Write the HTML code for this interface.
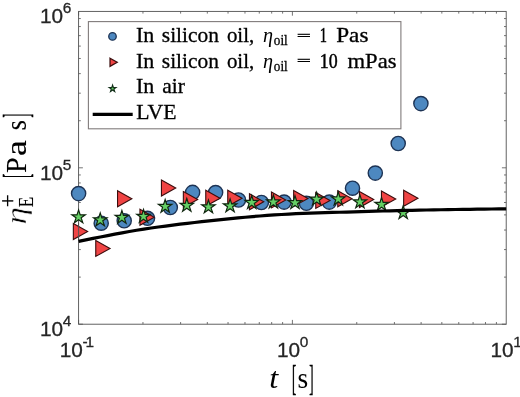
<!DOCTYPE html>
<html><head><meta charset="utf-8"><title>plot</title>
<style>html,body{margin:0;padding:0;background:#fff}svg{display:block}</style></head>
<body>
<svg width="520" height="397" viewBox="0 0 520 397">
<rect width="520" height="397" fill="#fff"/>
<path d="M78.60 324.20v-4.30 M78.60 11.40v4.30 M142.96 324.20v-2.20 M142.96 11.40v2.20 M180.61 324.20v-2.20 M180.61 11.40v2.20 M207.32 324.20v-2.20 M207.32 11.40v2.20 M228.04 324.20v-2.20 M228.04 11.40v2.20 M244.97 324.20v-2.20 M244.97 11.40v2.20 M259.28 324.20v-2.20 M259.28 11.40v2.20 M271.68 324.20v-2.20 M271.68 11.40v2.20 M282.62 324.20v-2.20 M282.62 11.40v2.20 M292.40 324.20v-4.30 M292.40 11.40v4.30 M356.76 324.20v-2.20 M356.76 11.40v2.20 M394.41 324.20v-2.20 M394.41 11.40v2.20 M421.12 324.20v-2.20 M421.12 11.40v2.20 M441.84 324.20v-2.20 M441.84 11.40v2.20 M458.77 324.20v-2.20 M458.77 11.40v2.20 M473.08 324.20v-2.20 M473.08 11.40v2.20 M485.48 324.20v-2.20 M485.48 11.40v2.20 M496.42 324.20v-2.20 M496.42 11.40v2.20 M78.60 324.20h4.30 M506.20 324.20h-4.30 M78.60 277.12h2.20 M506.20 277.12h-2.20 M78.60 249.58h2.20 M506.20 249.58h-2.20 M78.60 230.04h2.20 M506.20 230.04h-2.20 M78.60 214.88h2.20 M506.20 214.88h-2.20 M78.60 202.50h2.20 M506.20 202.50h-2.20 M78.60 192.03h2.20 M506.20 192.03h-2.20 M78.60 182.96h2.20 M506.20 182.96h-2.20 M78.60 174.96h2.20 M506.20 174.96h-2.20 M78.60 167.80h4.30 M506.20 167.80h-4.30 M78.60 120.72h2.20 M506.20 120.72h-2.20 M78.60 93.18h2.20 M506.20 93.18h-2.20 M78.60 73.64h2.20 M506.20 73.64h-2.20 M78.60 58.48h2.20 M506.20 58.48h-2.20 M78.60 46.10h2.20 M506.20 46.10h-2.20 M78.60 35.63h2.20 M506.20 35.63h-2.20 M78.60 26.56h2.20 M506.20 26.56h-2.20 M78.60 18.56h2.20 M506.20 18.56h-2.20" stroke="#505050" stroke-width="0.8" fill="none"/>
<rect x="78.60" y="11.40" width="427.60" height="312.80" fill="none" stroke="#505050" stroke-width="0.9"/>
<g>
<circle cx="78.6" cy="193.6" r="7.1" fill="#4d88c0" stroke="#1d3354" stroke-width="1.4"/>
<circle cx="101.2" cy="223.2" r="7.1" fill="#4d88c0" stroke="#1d3354" stroke-width="1.4"/>
<circle cx="124.2" cy="220.8" r="7.1" fill="#4d88c0" stroke="#1d3354" stroke-width="1.4"/>
<circle cx="147.5" cy="218.3" r="7.1" fill="#4d88c0" stroke="#1d3354" stroke-width="1.4"/>
<circle cx="170.3" cy="207.5" r="7.1" fill="#4d88c0" stroke="#1d3354" stroke-width="1.4"/>
<circle cx="192.6" cy="192.4" r="7.1" fill="#4d88c0" stroke="#1d3354" stroke-width="1.4"/>
<circle cx="215.6" cy="192.6" r="7.1" fill="#4d88c0" stroke="#1d3354" stroke-width="1.4"/>
<circle cx="238.5" cy="200.0" r="7.1" fill="#4d88c0" stroke="#1d3354" stroke-width="1.4"/>
<circle cx="261.4" cy="202.5" r="7.1" fill="#4d88c0" stroke="#1d3354" stroke-width="1.4"/>
<circle cx="284.1" cy="202.1" r="7.1" fill="#4d88c0" stroke="#1d3354" stroke-width="1.4"/>
<circle cx="306.4" cy="203.3" r="7.1" fill="#4d88c0" stroke="#1d3354" stroke-width="1.4"/>
<circle cx="329.3" cy="202.1" r="7.1" fill="#4d88c0" stroke="#1d3354" stroke-width="1.4"/>
<circle cx="352.5" cy="188.2" r="7.1" fill="#4d88c0" stroke="#1d3354" stroke-width="1.4"/>
<circle cx="375.3" cy="173.1" r="7.1" fill="#4d88c0" stroke="#1d3354" stroke-width="1.4"/>
<circle cx="398.2" cy="143.5" r="7.1" fill="#4d88c0" stroke="#1d3354" stroke-width="1.4"/>
<circle cx="420.9" cy="103.6" r="7.1" fill="#4d88c0" stroke="#1d3354" stroke-width="1.4"/>
<polygon points="73.35,223.50 87.65,231.50 73.35,239.50" fill="#f04444" stroke="#3a0d0d" stroke-width="1.1" stroke-linejoin="miter"/>
<polygon points="95.75,240.40 110.05,248.40 95.75,256.40" fill="#f04444" stroke="#3a0d0d" stroke-width="1.1" stroke-linejoin="miter"/>
<polygon points="117.55,190.70 131.85,198.70 117.55,206.70" fill="#f04444" stroke="#3a0d0d" stroke-width="1.1" stroke-linejoin="miter"/>
<polygon points="139.95,209.20 154.25,217.20 139.95,225.20" fill="#f04444" stroke="#3a0d0d" stroke-width="1.1" stroke-linejoin="miter"/>
<polygon points="161.45,180.00 175.75,188.00 161.45,196.00" fill="#f04444" stroke="#3a0d0d" stroke-width="1.1" stroke-linejoin="miter"/>
<polygon points="183.35,191.60 197.65,199.60 183.35,207.60" fill="#f04444" stroke="#3a0d0d" stroke-width="1.1" stroke-linejoin="miter"/>
<polygon points="205.75,190.30 220.05,198.30 205.75,206.30" fill="#f04444" stroke="#3a0d0d" stroke-width="1.1" stroke-linejoin="miter"/>
<polygon points="227.75,190.30 242.05,198.30 227.75,206.30" fill="#f04444" stroke="#3a0d0d" stroke-width="1.1" stroke-linejoin="miter"/>
<polygon points="249.45,193.80 263.75,201.80 249.45,209.80" fill="#f04444" stroke="#3a0d0d" stroke-width="1.1" stroke-linejoin="miter"/>
<polygon points="271.45,191.90 285.75,199.90 271.45,207.90" fill="#f04444" stroke="#3a0d0d" stroke-width="1.1" stroke-linejoin="miter"/>
<polygon points="293.65,190.40 307.95,198.40 293.65,206.40" fill="#f04444" stroke="#3a0d0d" stroke-width="1.1" stroke-linejoin="miter"/>
<polygon points="315.75,192.40 330.05,200.40 315.75,208.40" fill="#f04444" stroke="#3a0d0d" stroke-width="1.1" stroke-linejoin="miter"/>
<polygon points="337.75,190.70 352.05,198.70 337.75,206.70" fill="#f04444" stroke="#3a0d0d" stroke-width="1.1" stroke-linejoin="miter"/>
<polygon points="359.45,191.60 373.75,199.60 359.45,207.60" fill="#f04444" stroke="#3a0d0d" stroke-width="1.1" stroke-linejoin="miter"/>
<polygon points="381.45,190.90 395.75,198.90 381.45,206.90" fill="#f04444" stroke="#3a0d0d" stroke-width="1.1" stroke-linejoin="miter"/>
<polygon points="403.65,190.20 417.95,198.20 403.65,206.20" fill="#f04444" stroke="#3a0d0d" stroke-width="1.1" stroke-linejoin="miter"/>
<path d="M78.60 222.5V240.5" stroke="#505050" stroke-width="0.9"/>
<polygon points="78.60,209.90 80.19,214.81 85.35,214.81 81.18,217.84 82.77,222.74 78.60,219.71 74.43,222.74 76.02,217.84 71.85,214.81 77.01,214.81" fill="#64cf64" stroke="#10260f" stroke-width="1.2" stroke-linejoin="miter"/>
<polygon points="100.24,212.90 101.83,217.81 106.99,217.81 102.82,220.84 104.41,225.74 100.24,222.71 96.07,225.74 97.66,220.84 93.49,217.81 98.65,217.81" fill="#64cf64" stroke="#10260f" stroke-width="1.2" stroke-linejoin="miter"/>
<polygon points="121.88,210.40 123.47,215.31 128.63,215.31 124.46,218.34 126.05,223.24 121.88,220.21 117.71,223.24 119.30,218.34 115.13,215.31 120.29,215.31" fill="#64cf64" stroke="#10260f" stroke-width="1.2" stroke-linejoin="miter"/>
<polygon points="143.52,209.40 145.11,214.31 150.27,214.31 146.10,217.34 147.69,222.24 143.52,219.21 139.35,222.24 140.94,217.34 136.77,214.31 141.93,214.31" fill="#64cf64" stroke="#10260f" stroke-width="1.2" stroke-linejoin="miter"/>
<polygon points="165.16,199.40 166.75,204.31 171.91,204.31 167.74,207.34 169.33,212.24 165.16,209.21 160.99,212.24 162.58,207.34 158.41,204.31 163.57,204.31" fill="#64cf64" stroke="#10260f" stroke-width="1.2" stroke-linejoin="miter"/>
<polygon points="186.80,198.40 188.39,203.31 193.55,203.31 189.38,206.34 190.97,211.24 186.80,208.21 182.63,211.24 184.22,206.34 180.05,203.31 185.21,203.31" fill="#64cf64" stroke="#10260f" stroke-width="1.2" stroke-linejoin="miter"/>
<polygon points="208.44,199.90 210.03,204.81 215.19,204.81 211.02,207.84 212.61,212.74 208.44,209.71 204.27,212.74 205.86,207.84 201.69,204.81 206.85,204.81" fill="#64cf64" stroke="#10260f" stroke-width="1.2" stroke-linejoin="miter"/>
<polygon points="230.08,198.90 231.67,203.81 236.83,203.81 232.66,206.84 234.25,211.74 230.08,208.71 225.91,211.74 227.50,206.84 223.33,203.81 228.49,203.81" fill="#64cf64" stroke="#10260f" stroke-width="1.2" stroke-linejoin="miter"/>
<polygon points="251.72,195.50 253.31,200.41 258.47,200.41 254.30,203.44 255.89,208.34 251.72,205.31 247.55,208.34 249.14,203.44 244.97,200.41 250.13,200.41" fill="#64cf64" stroke="#10260f" stroke-width="1.2" stroke-linejoin="miter"/>
<polygon points="273.36,195.00 274.95,199.91 280.11,199.91 275.94,202.94 277.53,207.84 273.36,204.81 269.19,207.84 270.78,202.94 266.61,199.91 271.77,199.91" fill="#64cf64" stroke="#10260f" stroke-width="1.2" stroke-linejoin="miter"/>
<polygon points="295.00,195.70 296.59,200.61 301.75,200.61 297.58,203.64 299.17,208.54 295.00,205.51 290.83,208.54 292.42,203.64 288.25,200.61 293.41,200.61" fill="#64cf64" stroke="#10260f" stroke-width="1.2" stroke-linejoin="miter"/>
<polygon points="316.64,192.20 318.23,197.11 323.39,197.11 319.22,200.14 320.81,205.04 316.64,202.01 312.47,205.04 314.06,200.14 309.89,197.11 315.05,197.11" fill="#64cf64" stroke="#10260f" stroke-width="1.2" stroke-linejoin="miter"/>
<polygon points="338.28,192.00 339.87,196.91 345.03,196.91 340.86,199.94 342.45,204.84 338.28,201.81 334.11,204.84 335.70,199.94 331.53,196.91 336.69,196.91" fill="#64cf64" stroke="#10260f" stroke-width="1.2" stroke-linejoin="miter"/>
<polygon points="359.92,194.90 361.51,199.81 366.67,199.81 362.50,202.84 364.09,207.74 359.92,204.71 355.75,207.74 357.34,202.84 353.17,199.81 358.33,199.81" fill="#64cf64" stroke="#10260f" stroke-width="1.2" stroke-linejoin="miter"/>
<polygon points="381.56,197.40 383.15,202.31 388.31,202.31 384.14,205.34 385.73,210.24 381.56,207.21 377.39,210.24 378.98,205.34 374.81,202.31 379.97,202.31" fill="#64cf64" stroke="#10260f" stroke-width="1.2" stroke-linejoin="miter"/>
<polygon points="403.20,205.70 404.79,210.61 409.95,210.61 405.78,213.64 407.37,218.54 403.20,215.51 399.03,218.54 400.62,213.64 396.45,210.61 401.61,210.61" fill="#64cf64" stroke="#10260f" stroke-width="1.2" stroke-linejoin="miter"/>
<polyline points="78.60,241.40 85.85,239.86 93.09,238.38 100.34,236.96 107.59,235.58 114.84,234.19 122.08,232.81 129.33,231.47 136.58,230.23 143.83,229.10 151.07,228.03 158.32,227.02 165.57,226.04 172.82,225.11 180.06,224.20 187.31,223.32 194.56,222.47 201.81,221.64 209.05,220.85 216.30,220.08 223.55,219.34 230.80,218.63 238.04,217.92 245.29,217.23 252.54,216.58 259.79,215.99 267.03,215.46 274.28,214.97 281.53,214.51 288.78,214.08 296.02,213.70 303.27,213.37 310.52,213.09 317.77,212.86 325.01,212.65 332.26,212.45 339.51,212.25 346.76,212.05 354.00,211.84 361.25,211.62 368.50,211.41 375.75,211.20 382.99,211.00 390.24,210.81 397.49,210.63 404.74,210.46 411.98,210.30 419.23,210.16 426.48,210.01 433.73,209.88 440.97,209.75 448.22,209.63 455.47,209.51 462.72,209.40 469.96,209.29 477.21,209.18 484.46,209.08 491.71,208.98 498.95,208.89 506.20,208.80" fill="none" stroke="#000" stroke-width="3.2" stroke-linejoin="round"/>
</g>
<rect x="88.40" y="21.60" width="312.50" height="107.20" fill="#fff" stroke="#807b7b" stroke-width="1.1"/>
<circle cx="112.5" cy="36.4" r="3.75" fill="#4d88c0" stroke="#1d3354" stroke-width="1.3"/>
<polygon points="110.03,58.20 117.23,62.30 110.03,66.40" fill="#f04444" stroke="#3a0d0d" stroke-width="1.25"/>
<polygon points="112.60,85.10 113.39,87.52 115.93,87.52 113.87,89.01 114.66,91.43 112.60,89.94 110.54,91.43 111.33,89.01 109.27,87.52 111.81,87.52" fill="#64cf64" stroke="#14301a" stroke-width="1.15"/>
<line x1="92.7" x2="132.7" y1="114.4" y2="114.4" stroke="#000" stroke-width="3.1"/>
<text transform="matrix(1.0493 0 0 1.0000 135.90 41.70)" font-size="21.00" font-family="Liberation Serif, DejaVu Serif, serif" fill="#000" stroke="#000" stroke-width="0.30">In</text>
<text transform="matrix(1.0203 0 0 1.0000 161.80 41.70)" font-size="21.00" font-family="Liberation Serif, DejaVu Serif, serif" fill="#000" stroke="#000" stroke-width="0.30">silicon</text>
<text transform="matrix(0.9962 0 0 1.0000 226.90 41.70)" font-size="21.00" font-family="Liberation Serif, DejaVu Serif, serif" fill="#000" stroke="#000" stroke-width="0.30">oil,</text>
<text transform="matrix(0.9620 0 0 1.0000 263.10 41.70)" font-size="21.00" font-family="Liberation Serif, DejaVu Serif, serif" font-style="italic" fill="#000" stroke="#000" stroke-width="0.00">η</text>
<text transform="matrix(0.9214 0 0 1.0000 273.80 44.80)" font-size="14.30" font-family="Liberation Serif, DejaVu Serif, serif" fill="#000" stroke="#000" stroke-width="0.30">oil</text>
<text transform="matrix(1.1884 0 0 0.4814 296.80 38.60)" font-size="21.00" font-family="Liberation Serif, DejaVu Serif, serif" fill="#000" stroke="#000" stroke-width="0.70">=</text>
<text transform="matrix(1.0493 0 0 1.0000 135.90 67.50)" font-size="21.00" font-family="Liberation Serif, DejaVu Serif, serif" fill="#000" stroke="#000" stroke-width="0.30">In</text>
<text transform="matrix(1.0203 0 0 1.0000 161.80 67.50)" font-size="21.00" font-family="Liberation Serif, DejaVu Serif, serif" fill="#000" stroke="#000" stroke-width="0.30">silicon</text>
<text transform="matrix(0.9962 0 0 1.0000 226.90 67.50)" font-size="21.00" font-family="Liberation Serif, DejaVu Serif, serif" fill="#000" stroke="#000" stroke-width="0.30">oil,</text>
<text transform="matrix(0.9620 0 0 1.0000 263.10 67.50)" font-size="21.00" font-family="Liberation Serif, DejaVu Serif, serif" font-style="italic" fill="#000" stroke="#000" stroke-width="0.00">η</text>
<text transform="matrix(0.9214 0 0 1.0000 273.80 70.60)" font-size="14.30" font-family="Liberation Serif, DejaVu Serif, serif" fill="#000" stroke="#000" stroke-width="0.30">oil</text>
<text transform="matrix(1.1884 0 0 0.4814 296.80 64.40)" font-size="21.00" font-family="Liberation Serif, DejaVu Serif, serif" fill="#000" stroke="#000" stroke-width="0.70">=</text>
<text transform="matrix(0.6857 0 0 1.0000 319.80 41.70)" font-size="21.00" font-family="Liberation Serif, DejaVu Serif, serif" fill="#000" stroke="#000" stroke-width="0.50">1</text>
<text transform="matrix(1.1065 0 0 1.0000 336.20 41.70)" font-size="21.00" font-family="Liberation Serif, DejaVu Serif, serif" fill="#000" stroke="#000" stroke-width="0.30">Pas</text>
<text transform="matrix(0.8524 0 0 1.0000 319.80 67.50)" font-size="21.00" font-family="Liberation Serif, DejaVu Serif, serif" fill="#000" stroke="#000" stroke-width="0.50">10</text>
<text transform="matrix(1.0778 0 0 1.0000 347.50 67.50)" font-size="21.00" font-family="Liberation Serif, DejaVu Serif, serif" fill="#000" stroke="#000" stroke-width="0.30">mPas</text>
<text transform="matrix(1.0493 0 0 1.0000 135.90 93.30)" font-size="21.00" font-family="Liberation Serif, DejaVu Serif, serif" fill="#000" stroke="#000" stroke-width="0.30">In</text>
<text transform="matrix(1.0246 0 0 1.0000 162.20 93.30)" font-size="21.00" font-family="Liberation Serif, DejaVu Serif, serif" fill="#000" stroke="#000" stroke-width="0.30">air</text>
<text transform="matrix(1.0347 0 0 1.0000 136.20 119.20)" font-size="21.00" font-family="Liberation Serif, DejaVu Serif, serif" fill="#000" stroke="#000" stroke-width="0.30">LVE</text>
<text x="39.90" y="23.20" font-size="20.8" font-family="Liberation Sans, DejaVu Sans, sans-serif" fill="#262626" stroke="#262626" stroke-width="0.3">10<tspan dy="-10.1" dx="-0.4" font-size="15.4">6</tspan></text>
<text x="39.90" y="179.60" font-size="20.8" font-family="Liberation Sans, DejaVu Sans, sans-serif" fill="#262626" stroke="#262626" stroke-width="0.3">10<tspan dy="-10.1" dx="-0.4" font-size="15.4">5</tspan></text>
<text x="39.90" y="336.10" font-size="20.8" font-family="Liberation Sans, DejaVu Sans, sans-serif" fill="#262626" stroke="#262626" stroke-width="0.3">10<tspan dy="-10.1" dx="-0.4" font-size="15.4">4</tspan></text>
<text x="59.70" y="357.00" font-size="20.8" font-family="Liberation Sans, DejaVu Sans, sans-serif" fill="#262626" stroke="#262626" stroke-width="0.3">10<tspan dy="-10.1" dx="-0.4" font-size="15.4">-</tspan><tspan dx="-2.0" font-size="15.4">1</tspan></text>
<text x="277.00" y="357.00" font-size="20.8" font-family="Liberation Sans, DejaVu Sans, sans-serif" fill="#262626" stroke="#262626" stroke-width="0.3">10<tspan dy="-10.1" dx="-0.4" font-size="15.4">0</tspan></text>
<text x="490.40" y="357.00" font-size="20.8" font-family="Liberation Sans, DejaVu Sans, sans-serif" fill="#262626" stroke="#262626" stroke-width="0.3">10<tspan dy="-10.1" dx="-0.4" font-size="15.4">1</tspan></text>
<text transform="matrix(1.1345 0 0 1.0000 269.20 388.10)" font-size="28.50" font-family="Liberation Serif, DejaVu Serif, serif" font-style="italic" fill="#000" stroke="#000" stroke-width="0.00">t</text>
<text transform="matrix(0.4504 0 0 1.2344 291.90 390.25)" font-size="28.50" font-family="Liberation Serif, DejaVu Serif, serif" fill="#000" stroke="#000" stroke-width="0.50">[</text>
<text transform="matrix(0.9627 0 0 1.0000 297.60 388.10)" font-size="28.50" font-family="Liberation Serif, DejaVu Serif, serif" fill="#000" stroke="#000" stroke-width="0.00">s</text>
<text transform="matrix(0.4504 0 0 1.2344 309.20 390.25)" font-size="28.50" font-family="Liberation Serif, DejaVu Serif, serif" fill="#000" stroke="#000" stroke-width="0.50">]</text>
<g transform="translate(25.6,224.4) rotate(-90)">
<text transform="matrix(1.2405 0 0 1.0000 0.00 0.00)" font-size="28.50" font-family="Liberation Serif, DejaVu Serif, serif" font-style="italic" fill="#000" stroke="#fff" stroke-width="0.50">η</text>
<text transform="matrix(1.1947 0 0 1.1947 16.80 -10.80)" font-size="20.00" font-family="Liberation Serif, DejaVu Serif, serif" fill="#000" stroke="#000" stroke-width="0.10">+</text>
<text transform="matrix(0.8525 0 0 1.0000 17.20 7.80)" font-size="20.00" font-family="Liberation Serif, DejaVu Serif, serif" fill="#000" stroke="#000" stroke-width="0.10">E</text>
<text transform="matrix(0.4085 0 0 1.2386 46.70 2.13)" font-size="28.50" font-family="Liberation Serif, DejaVu Serif, serif" fill="#000" stroke="#000" stroke-width="0.50">[</text>
<text transform="matrix(0.9799 0 0 1.0000 51.40 0.00)" font-size="28.50" font-family="Liberation Serif, DejaVu Serif, serif" fill="#000" stroke="#000" stroke-width="0.10">P</text>
<text transform="matrix(1.2379 0 0 1.0000 68.50 0.00)" font-size="28.50" font-family="Liberation Serif, DejaVu Serif, serif" fill="#000" stroke="#000" stroke-width="0.10">a</text>
<text transform="matrix(0.9087 0 0 1.0000 94.10 0.00)" font-size="28.50" font-family="Liberation Serif, DejaVu Serif, serif" fill="#000" stroke="#000" stroke-width="0.10">s</text>
<text transform="matrix(0.4085 0 0 1.2386 107.00 2.13)" font-size="28.50" font-family="Liberation Serif, DejaVu Serif, serif" fill="#000" stroke="#000" stroke-width="0.50">]</text>
</g>
</svg>
</body></html>
